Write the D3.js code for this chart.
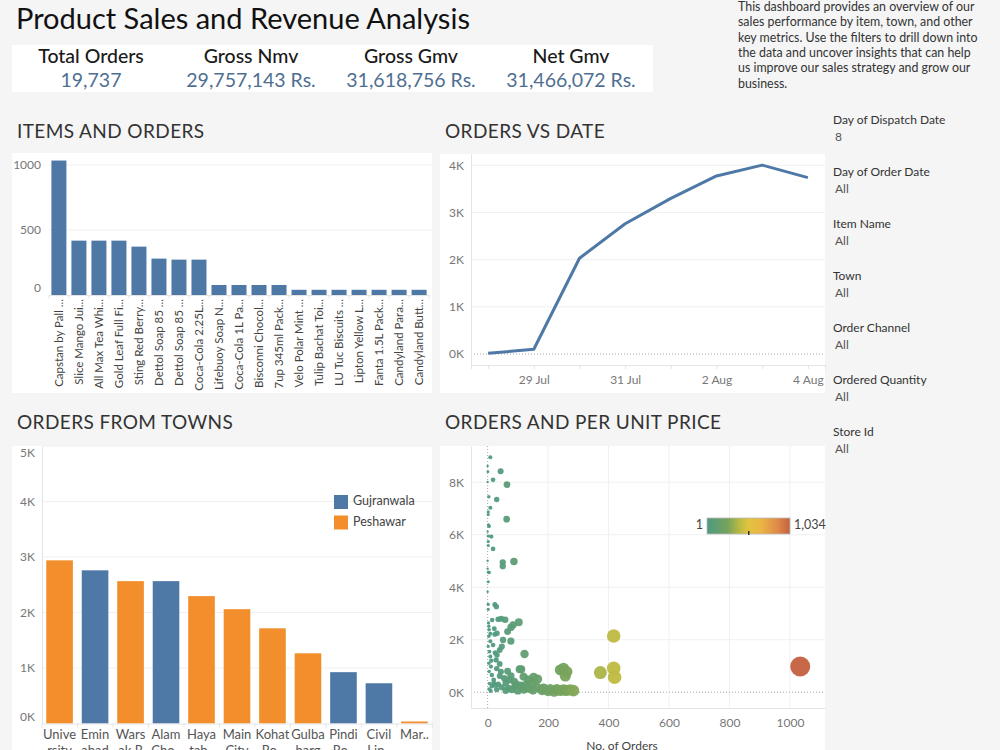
<!DOCTYPE html>
<html lang="en">
<head>
<meta charset="UTF-8">
<title>Product Sales and Revenue Analysis</title>
<script src="https://d3js.org/d3.v7.min.js"></script>
<style>
  body { margin: 0; background: #f5f5f5; }
  svg text { font-family: Lato, "Open Sans", sans-serif; }
  .tick text { fill: #777; font-size: 12px; }
  .sect { font-size: 19px; fill: #333; letter-spacing: 0.4px; }
  .flabel { font-size: 12px; fill: #333; }
  .fvalue { font-size: 12px; fill: #555; }
</style>
</head>
<body>
<svg id="dash" width="1000" height="750"></svg>
<script>
// KPIs
const kpiNames = ["Total Orders", "Gross Nmv", "Gross Gmv", "Net Gmv"];
const kpiValues = ["19,737", "29,757,143 Rs.", "31,618,756 Rs.", "31,466,072 Rs."];

const description = [
  "This dashboard provides an overview of our",
  "sales performance by item, town, and other",
  "key metrics. Use the filters to drill down into",
  "the data and uncover insights that can help",
  "us improve our sales strategy and grow our",
  "business."
];

const filterNames = ["Day of Dispatch Date", "Day of Order Date", "Item Name", "Town", "Order Channel", "Ordered Quantity", "Store Id"];
const filterValues = ["8", "All", "All", "All", "All", "All", "All"];

// items and orders
const itemNames = ["Capstan by Pall ...", "Slice Mango Jui...", "All Max Tea Whi...", "Gold Leaf Full Fi...",
  "Sting Red Berry...", "Dettol Soap 85 ...", "Dettol Soap 85 ...", "Coca-Cola 2.25L...", "Lifebuoy Soap N...",
  "Coca-Cola 1L Pa...", "Bisconni Chocol...", "7up 345ml Pack...", "Velo Polar Mint ...", "Tulip Bachat Toi...",
  "LU Tuc Biscuits ...", "Lipton Yellow L...", "Fanta 1.5L Pack...", "Candyland Para...", "Candyland Butt..."];
const itemOrders = [1034, 418, 418, 418, 372, 280, 272, 272, 77, 77, 77, 77, 40, 40, 40, 40, 40, 40, 40];
const itemTicks = [0, 500, 1000];

// orders vs date
const orderDates = ["2023-07-28", "2023-07-29", "2023-07-30", "2023-07-31", "2023-08-01", "2023-08-02", "2023-08-03", "2023-08-04"];
const ordersPerDay = [15, 100, 2030, 2760, 3300, 3775, 4005, 3740];
const dateTicks = ["2023-07-29", "2023-07-31", "2023-08-02", "2023-08-04"];

// orders from towns
const townFirst = ["Unive", "Emin", "Wars", "Alam", "Haya", "Main", "Kohat", "Gulba", "Pindi", "Civil", "Mar.."];
const townSecond = ["rsity", "abad", "ak R", "Cho..", "tab..", "City", "Ro..", "harg", "Ro..", "Lin..", ""];
const townCity = ["Peshawar", "Gujranwala", "Peshawar", "Gujranwala", "Peshawar", "Peshawar", "Peshawar", "Peshawar", "Gujranwala", "Gujranwala", "Peshawar"];
const townOrders = [2940, 2760, 2565, 2565, 2295, 2060, 1715, 1265, 925, 725, 36];
const cities = ["Gujranwala", "Peshawar"];
const cityColors = ["#4e79a7", "#f28e2b"];

// orders and per unit price  [no. of orders, unit price]
const scatterOrders = [9, 0, 1, 43, 18, 0, 64, 4, 30, 9, 2, 2, 63, 3, 5, 0, 2, 12, 2, 2, 18, 0, 50, 50, 87, 0, 2, 5, 2, 0, 2, 24, 29, 2,
  35, 45, 58, 103, 84, 77, 66, 31, 24, 51, 77, 47, 40, 122, 31, 28, 40, 106, 111, 251, 262, 257, 240, 373, 417, 417, 420, 1034,
  119, 152, 135, 66, 77, 44, 40, 55, 72, 88,
  163, 185, 207, 229, 251, 273, 284, 113, 135, 91, 69, 47, 25, 14,
  200, 220, 240, 260, 180, 150, 100, 120, 80, 60, 30, 10, 5,
  3, 4, 5, 4, 9, 2, 6, 9, 4, 11, 5, 14, 20, 7, 15, 22, 9,
  18, 25, 12, 30, 20, 35, 60, 95, 110, 130, 150, 165];
const scatterPrice = [8950, 8620, 8400, 8420, 8090, 8010, 7910, 7450, 7340, 7030, 6870, 6770, 6590, 6370, 6320, 6120, 5950, 5930, 5740, 5590, 5460, 5010, 4950, 4800, 4980, 4710, 4580, 4560, 4210, 3830, 3350, 3340, 3260, 3160,
  2780, 2800, 2760, 2670, 2560, 2470, 2310, 2250, 2210, 1990, 1950, 1740, 1610, 1460, 1420, 1230, 1080, 876, 876, 914, 785, 620, 850, 750, 2140, 914, 571, 980,
  595, 571, 470, 800, 620, 780, 620, 533, 470, 405,
  190, 150, 115, 115, 90, 90, 60, 190, 150, 230, 150, 190, 270, 230,
  40, 30, 60, 70, 70, 80, 60, 100, 100, 60, 100, 50, 120,
  2640, 2510, 2380, 2130, 1940, 1750, 1550, 1360, 1100, 980, 790, 660, 470, 330, 2750, 2420, 2230,
  1800, 1500, 1200, 900, 350, 300, 350, 300, 250, 300, 400, 500];
const priceTicks = [0, 2000, 4000, 6000, 8000];
const orderTicks = [0, 200, 400, 600, 800, 1000];
const gradStops = [0, 0.25, 0.4, 0.5, 0.65, 0.85, 1];
const gradColors = ["#4e9a82", "#77a35c", "#bdbb42", "#e2c33f", "#ebb544", "#de8a48", "#c4613f"];

const svg = d3.select("#dash");
svg.append("rect").attr("width", 1000).attr("height", 750).attr("fill", "#f5f5f5");

// header
svg.append("text").attr("x", 16).attr("y", 29)
  .style("font-size", "29px").style("fill", "#111").text("Product Sales and Revenue Analysis");

svg.append("rect").attr("x", 12).attr("y", 45).attr("width", 641).attr("height", 47).attr("fill", "#fff");
const kpiX = d3.scalePoint().domain(kpiNames).range([91, 571]);
kpiNames.forEach((k, i) => {
  svg.append("text").attr("x", kpiX(k)).attr("y", 63).attr("text-anchor", "middle")
    .style("font-size", "19.5px").style("fill", "#1a1a1a").style("font-weight", "500").text(k);
  svg.append("text").attr("x", kpiX(k)).attr("y", 86.5).attr("text-anchor", "middle")
    .style("font-size", "19.5px").style("fill", "#4f6f92").text(kpiValues[i]);
});

description.forEach((line, i) => {
  svg.append("text").attr("x", 738).attr("y", 8 + i * 15.3).attr("dominant-baseline", "middle")
    .style("font-size", "12.4px").style("fill", "#333").text(line);
});

filterNames.forEach((f, i) => {
  svg.append("text").attr("class", "flabel").attr("x", 833).attr("y", 121 + i * 52).attr("dominant-baseline", "middle").text(f);
  svg.append("text").attr("class", "fvalue").attr("x", 835).attr("y", 138 + i * 52).attr("dominant-baseline", "middle").text(filterValues[i]);
});

// section titles + white panels
const sections = [
  {t: "ITEMS AND ORDERS", x: 17, y: 133, px: 12, py: 153, pw: 420, ph: 240},
  {t: "ORDERS VS DATE", x: 445, y: 133, px: 440, py: 154, pw: 385, ph: 239},
  {t: "ORDERS FROM TOWNS", x: 17, y: 424, px: 12, py: 446, pw: 420, ph: 304},
  {t: "ORDERS AND PER UNIT PRICE", x: 445, y: 424, px: 440, py: 446, pw: 385, ph: 304}
];
sections.forEach(s => {
  svg.append("text").attr("class", "sect").attr("x", s.x).attr("y", s.y).attr("dominant-baseline", "middle").text(s.t);
  svg.append("rect").attr("x", s.px).attr("y", s.py).attr("width", s.pw).attr("height", s.ph).attr("fill", "#fff");
});

// keep edge tick labels inside their pane
function clampLabels(g, scale, top, bottom) {
  g.selectAll(".tick").each(function(d) {
    const y = scale(d);
    let dy = 0;
    if (y - 7 < top) dy = top + 7 - y;
    if (y + 7 > bottom) dy = bottom - 7 - y;
    d3.select(this).select("text").attr("transform", `translate(0,${dy})`);
  });
}

function styleAxis(g) {
  g.select(".domain").attr("stroke", "#e4e4e4");
  g.selectAll(".tick line").attr("stroke", "#e4e4e4");
}

// ---- items and orders
{
  const x = d3.scaleBand().domain(d3.range(itemNames.length)).range([49, 429]).paddingInner(0.25).paddingOuter(0.12);
  const y = d3.scaleLinear().domain([0, 1092]).range([295, 153]);
  svg.append("g").selectAll("line").data(itemTicks.slice(1)).join("line")
    .attr("x1", 49).attr("x2", 432).attr("y1", d => y(d)).attr("y2", d => y(d)).attr("stroke", "#f0f0f0");
  svg.append("g").selectAll("rect").data(itemOrders).join("rect")
    .attr("x", (d, i) => x(i)).attr("width", x.bandwidth())
    .attr("y", d => y(d)).attr("height", d => y(0) - y(d)).attr("fill", "#4e79a7");
  const ya = svg.append("g").attr("transform", "translate(49,0)")
    .call(d3.axisLeft(y).tickValues(itemTicks).tickSize(0).tickPadding(8).tickFormat(d3.format("d")));
  ya.select(".domain").remove();
  clampLabels(ya, y, 153, 295);
  const xa = svg.append("g").attr("transform", `translate(0,${y(0)})`)
    .call(d3.axisBottom(x).tickSize(0).tickFormat(i => itemNames[i]));
  styleAxis(xa);
  xa.selectAll(".tick text").attr("transform", "rotate(-90)").attr("text-anchor", "end")
    .attr("x", -4).attr("y", 0).attr("dy", "0.35em").style("fill", "#444").style("font-size", "11.5px");
  // band separators
  svg.append("g").selectAll("line").data(d3.range(itemNames.length + 1)).join("line")
    .attr("x1", i => 49 + i * x.step()).attr("x2", i => 49 + i * x.step())
    .attr("y1", y(0)).attr("y2", y(0) + 4).attr("stroke", "#e4e4e4");
}

// ---- orders vs date
{
  const parse = d3.timeParse("%Y-%m-%d");
  const dates = orderDates.map(parse);
  const x = d3.scaleTime().domain([new Date(2023, 6, 27, 15), new Date(2023, 7, 4, 9.3)]).range([471, 825]);
  const y = d3.scaleLinear().domain([-233, 4240]).range([365, 154]);
  const yt = [0, 1000, 2000, 3000, 4000];
  svg.append("g").selectAll("line").data(yt.slice(1)).join("line")
    .attr("x1", 471).attr("x2", 825).attr("y1", d => y(d)).attr("y2", d => y(d)).attr("stroke", "#f0f0f0");
  svg.append("line").attr("x1", 471).attr("x2", 825).attr("y1", y(0)).attr("y2", y(0))
    .attr("stroke", "#aaa").attr("stroke-dasharray", "1,2");
  const ya = svg.append("g").attr("transform", "translate(471,0)")
    .call(d3.axisLeft(y).tickValues(yt).tickSize(0).tickPadding(7).tickFormat(d => d / 1000 + "K"));
  styleAxis(ya);
  const xa = svg.append("g").attr("transform", "translate(0,365)")
    .call(d3.axisBottom(x).ticks(d3.timeDay.every(1)).tickSize(4).tickPadding(6)
      .tickFormat(d => dateTicks.includes(d3.timeFormat("%Y-%m-%d")(d)) ? d3.timeFormat("%-d %b")(d) : ""));
  styleAxis(xa);
  const line = d3.line().x((d, i) => x(dates[i])).y(d => y(d));
  svg.append("path").datum(ordersPerDay).attr("d", line).attr("fill", "none")
    .attr("stroke", "#4e79a7").attr("stroke-width", 3).attr("stroke-linejoin", "round");
}

// ---- orders from towns
{
  const x = d3.scaleBand().domain(d3.range(townFirst.length)).range([42, 432]).paddingInner(0.25).paddingOuter(0.12);
  const y = d3.scaleLinear().domain([0, 5000]).range([723.5, 446]);
  const color = d3.scaleOrdinal().domain(cities).range(cityColors);
  const yt = [0, 1000, 2000, 3000, 4000, 5000];
  svg.append("g").selectAll("line").data(yt.slice(1)).join("line")
    .attr("x1", 42).attr("x2", 432).attr("y1", d => y(d)).attr("y2", d => y(d)).attr("stroke", "#f0f0f0");
  svg.append("g").selectAll("rect").data(townOrders).join("rect")
    .attr("x", (d, i) => x(i)).attr("width", x.bandwidth())
    .attr("y", d => y(d)).attr("height", d => y(0) - y(d)).attr("fill", (d, i) => color(townCity[i]));
  const ya = svg.append("g").attr("transform", "translate(42,0)")
    .call(d3.axisLeft(y).tickValues(yt).tickSize(0).tickPadding(7).tickFormat(d => d / 1000 + "K"));
  styleAxis(ya);
  clampLabels(ya, y, 446, 723.5);
  const xa = svg.append("g").attr("transform", `translate(0,${y(0)})`)
    .call(d3.axisBottom(x).tickSize(0).tickFormat(""));
  styleAxis(xa);
  svg.append("g").selectAll("line").data(d3.range(townFirst.length + 1)).join("line")
    .attr("x1", i => 42 + i * x.step()).attr("x2", i => 42 + i * x.step())
    .attr("y1", y(0)).attr("y2", y(0) + 4).attr("stroke", "#e4e4e4");
  const lbl = svg.append("g").selectAll("text").data(townFirst).join("text")
    .attr("x", (d, i) => x(i) + x.bandwidth() / 2).attr("y", 739).attr("text-anchor", "middle")
    .style("font-size", "13px").style("fill", "#555");
  lbl.append("tspan").text(d => d);
  lbl.append("tspan").attr("x", (d, i) => x(i) + x.bandwidth() / 2).attr("dy", 16).text((d, i) => townSecond[i]);
  // legend
  cities.forEach((c, i) => {
    svg.append("rect").attr("x", 334).attr("y", 495 + i * 20.5).attr("width", 14).attr("height", 14).attr("fill", color(c));
    svg.append("text").attr("x", 353).attr("y", 502 + i * 20.5).attr("dominant-baseline", "middle")
      .style("font-size", "12.5px").style("fill", "#444").text(c);
  });
}

// ---- orders and per unit price
{
  const x = d3.scaleLinear().domain([-55, 1116]).range([471, 825]);
  const y = d3.scaleLinear().domain([-600, 9380]).range([708, 446]);
  const maxO = d3.max(scatterOrders);
  const color = d3.scaleLinear().domain(gradStops.map(s => 1 + s * (maxO - 1))).range(gradColors);
  const r = d3.scaleSqrt().domain([0, maxO]).range([1.2, 10]);
  svg.append("g").selectAll("line").data(priceTicks.slice(1)).join("line")
    .attr("x1", 471).attr("x2", 825).attr("y1", d => y(d)).attr("y2", d => y(d)).attr("stroke", "#f0f0f0");
  svg.append("g").selectAll("line").data(orderTicks.slice(1)).join("line")
    .attr("y1", 446).attr("y2", 708).attr("x1", d => x(d)).attr("x2", d => x(d)).attr("stroke", "#f0f0f0");
  svg.append("line").attr("x1", 471).attr("x2", 825).attr("y1", y(0)).attr("y2", y(0))
    .attr("stroke", "#aaa").attr("stroke-dasharray", "1,2");
  svg.append("line").attr("x1", x(0)).attr("x2", x(0)).attr("y1", 446).attr("y2", 708)
    .attr("stroke", "#aaa").attr("stroke-dasharray", "1,2");
  const ya = svg.append("g").attr("transform", "translate(471,0)")
    .call(d3.axisLeft(y).tickValues(priceTicks).tickSize(0).tickPadding(7).tickFormat(d => d / 1000 + "K"));
  styleAxis(ya);
  const xa = svg.append("g").attr("transform", "translate(0,708)")
    .call(d3.axisBottom(x).tickValues(orderTicks).tickSize(0).tickPadding(10).tickFormat(d3.format("d")));
  styleAxis(xa);
  svg.append("text").attr("x", 622).attr("y", 747).attr("text-anchor", "middle").attr("dominant-baseline", "middle")
    .style("font-size", "12px").style("fill", "#444").text("No. of Orders");
  const pts = scatterOrders.map((o, i) => ({o, p: scatterPrice[i]})).sort((a, b) => a.o - b.o);
  svg.append("g").selectAll("circle").data(pts).join("circle")
    .attr("cx", d => x(d.o)).attr("cy", d => y(d.p)).attr("r", d => r(d.o))
    .attr("fill", d => color(Math.max(1, d.o))).attr("opacity", 0.95);
  // colour legend
  const grad = svg.append("defs").append("linearGradient").attr("id", "ordgrad");
  grad.selectAll("stop").data(gradStops).join("stop")
    .attr("offset", d => d * 100 + "%").attr("stop-color", (d, i) => gradColors[i]);
  svg.append("rect").attr("x", 707).attr("y", 518).attr("width", 83).attr("height", 16)
    .attr("fill", "url(#ordgrad)").attr("stroke", "#bbb").attr("stroke-width", 0.8);
  svg.append("rect").attr("x", 748).attr("y", 531).attr("width", 1.5).attr("height", 4).attr("fill", "#333");
  svg.append("text").attr("x", 703).attr("y", 526).attr("text-anchor", "end").attr("dominant-baseline", "middle")
    .style("font-size", "12.5px").style("fill", "#444").text("1");
  svg.append("text").attr("x", 794).attr("y", 526).attr("dominant-baseline", "middle")
    .style("font-size", "12.5px").style("fill", "#444").text(d3.format(",")(maxO));
}
</script>
</body>
</html>
